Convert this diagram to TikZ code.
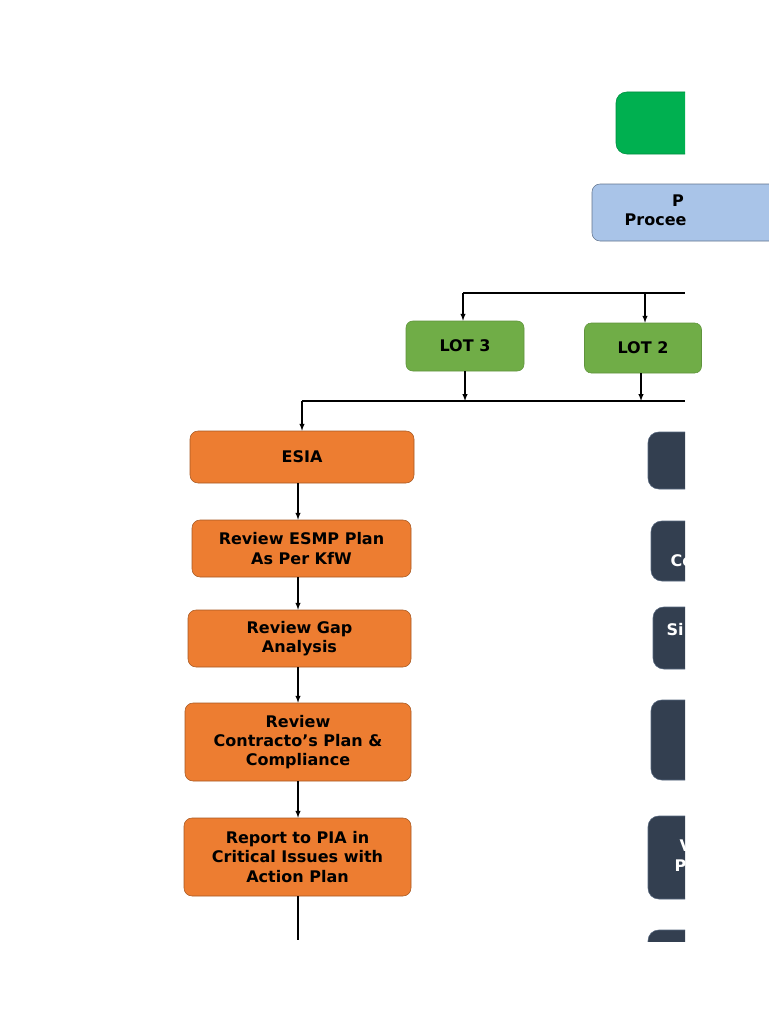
\documentclass[tikz,border=0pt]{standalone}
\usepackage{fontspec}
\setmainfont{DejaVu Sans}
\usepackage{tikz}
\usetikzlibrary{positioning}
\definecolor{orangebox}{RGB}{237,125,49}
\definecolor{lotgreen}{RGB}{112,173,71}
\definecolor{topgreen}{RGB}{0,176,80}
\definecolor{paleblue}{RGB}{169,196,232}
\definecolor{slate}{RGB}{51,63,80}
\tikzset{
  task/.style={draw=orangebox!70!black,fill=orangebox,rounded corners=6pt,align=center,font=\bfseries\fontsize{12}{14.5}\selectfont},
  lot/.style={draw=lotgreen!85!black,fill=lotgreen,rounded corners=5pt,font=\bfseries\fontsize{12}{14.5}\selectfont},
  dark/.style={draw=slate!70!paleblue,fill=slate,rounded corners=8pt},
  darktext/.style={text=white,font=\bfseries\fontsize{12}{14.5}\selectfont,anchor=west},
  flow/.style={-latex,thick}
}
\begin{document}
\begin{tikzpicture}[x=0.75pt,y=0.75pt,yscale=-1,xscale=1]
\useasboundingbox (0,0) rectangle (768,1024);
%top boxes and right column, cut at the page edge
\begin{scope}
\clip (0,0) rectangle (685,941);
\draw [draw=topgreen!80!black,fill=topgreen,rounded corners=8pt] (616,92) rectangle (760,154);
\draw [dark] (648,432) rectangle (760,489);
\draw [dark] (651,521) rectangle (760,581);
\draw [dark] (653,607) rectangle (760,669);
\draw [dark] (651,700) rectangle (760,780);
\draw [dark] (648,816) rectangle (760,899);
\draw [dark] (648,930) rectangle (760,990);
\node [darktext] (co) at (666,561) {Co};
\node [darktext] (si) at (662,630) {Si};
\node [darktext] (v) at (675,846) {V};
\node [darktext] (p) at (670,866) {P};
\end{scope}
\draw [draw=slate!60!paleblue,fill=paleblue,rounded corners=6pt] (592,184) rectangle (790,241);
\begin{scope}
\clip (0,0) rectangle (685,1024);
\node [font=\bfseries\fontsize{12}{14.5}\selectfont] (ptop) at (678,201) {P};
\node [font=\bfseries\fontsize{12}{14.5}\selectfont,anchor=west] (proc) at (620,220) {Procee};
\end{scope}
%lots
\coordinate (bus1l) at (463,293);
\coordinate (bus1r) at (685,293);
\node [lot,minimum width=118pt*0.75,minimum height=50pt*0.75] (lot3) at (465,346) {LOT 3};
\node [lot,minimum width=117pt*0.75,minimum height=50pt*0.75] (lot2) at (643,348) {LOT 2};
\draw [thick] (bus1l) -- (bus1r);
\draw [flow] (bus1l) -- (lot3.north -| bus1l);
\draw [flow] (645,293) -- (lot2.north -| 645,0);
\coordinate (bus2l) at (302,401);
\coordinate (bus2r) at (685,401);
\draw [thick] (bus2l) -- (bus2r);
\draw [flow] (lot3.south) -- (lot3.south |- bus2l);
\draw [flow] (lot2.south -| 641,0) -- (641,401);
%left column
\node [task,minimum width=224pt*0.75,minimum height=52pt*0.75] (esia) at (302,457) {ESIA};
\node [task,minimum width=219pt*0.75,minimum height=57pt*0.75] (esmp) at (301.5,548.5) {Review ESMP Plan\\As Per KfW};
\node [task,minimum width=223pt*0.75,minimum height=57pt*0.75] (gap) at (299.5,638.5) {Review Gap\\Analysis};
\node [task,minimum width=226pt*0.75,minimum height=78pt*0.75] (plan) at (298,742) {Review\\Contracto's Plan \&\\Compliance};
\node [task,minimum width=227pt*0.75,minimum height=78pt*0.75] (pia) at (297.5,857) {Report to PIA in\\Critical Issues with\\Action Plan};
\draw [flow] (bus2l) -- (esia.north -| bus2l);
\draw [flow] (esia.south -| 298,0) -- (esmp.north -| 298,0);
\draw [flow] (esmp.south -| 298,0) -- (gap.north -| 298,0);
\draw [flow] (gap.south -| 298,0) -- (plan.north -| 298,0);
\draw [flow] (plan.south -| 298,0) -- (pia.north -| 298,0);
\coordinate (tail) at (298,940);
\draw [thick] (pia.south -| tail) -- (tail);
\end{tikzpicture}
\end{document}
